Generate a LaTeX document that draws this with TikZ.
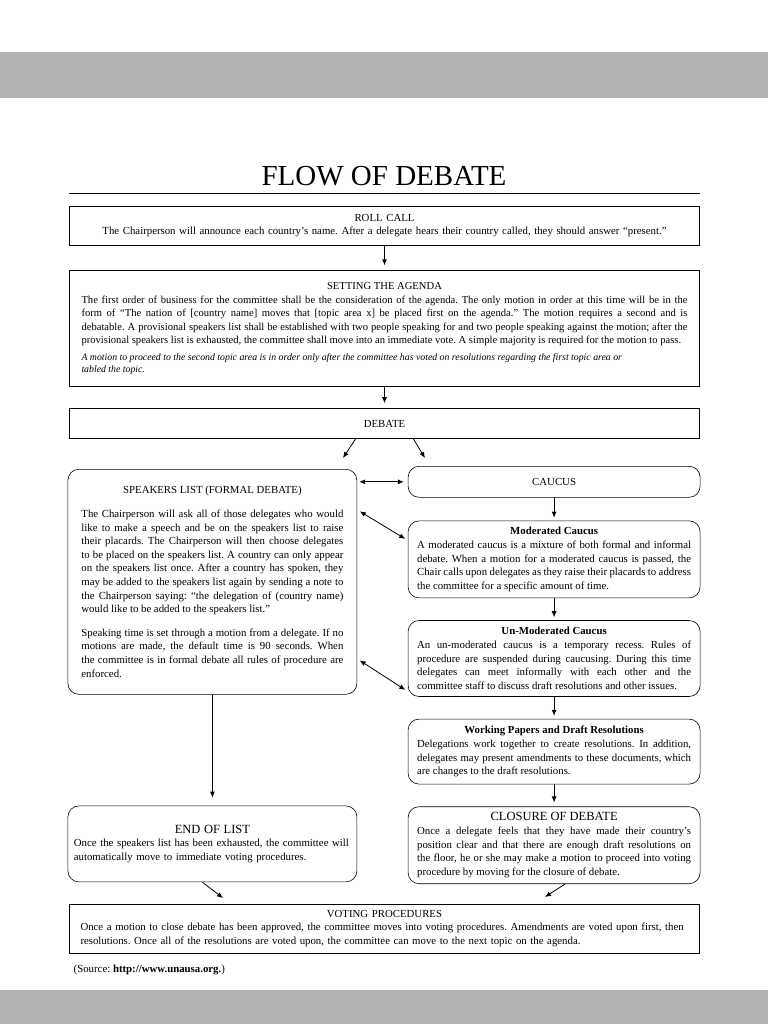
\documentclass[tikz,border=0pt]{standalone}
\usepackage{fontspec}
\setmainfont{Liberation Serif}
\usepackage{xcolor}
\usetikzlibrary{positioning,arrows.meta}
\definecolor{bandgray}{HTML}{B4B4B4}
\newcommand{\boxhead}[1]{{\centering #1\par}}
\frenchspacing
\hyphenpenalty=10000
\tolerance=4000
\emergencystretch=8pt

\begin{document}
\begin{tikzpicture}[x=1pt, y=1pt, thick, >={Latex[length=6pt,width=5pt]},
flatnode/.style = {rectangle, draw, fill=white, minimum width=630pt, inner sep=0pt},
roundnode/.style = {rectangle, draw, semithick, rounded corners=11pt, fill=white, inner sep=0pt}]
\tikzstyle{every node}=[font=\fontsize{10.8}{13.6}\selectfont]
\useasboundingbox (0,0) rectangle (768,-1024);
\fill[bandgray] (0,-52) rectangle (768,-98);
\fill[bandgray] (0,-990) rectangle (768,-1024);
\node[font=\fontsize{29}{29}\selectfont] (0) at (384,-176.5) {FLOW OF DEBATE};
\draw (69,-193) -- (700,-193);
\node[flatnode, minimum height=39pt, text width=610pt, align=center] (1) at (384.5,-225.5) {ROLL CALL\\The Chairperson will announce each country’s name. After a delegate hears their country called, they should answer “present.”};
\node[flatnode, minimum height=116pt, text width=606pt, align=justify, font=\fontsize{10.6}{13.6}\selectfont] (2) [below=25pt of 1] {\boxhead{SETTING THE AGENDA}The first order of business for the committee shall be the consideration of the agenda. The only motion in order at this time will be in the\linebreak form of “The nation of [country name] moves that [topic area x] be placed first on the agenda.” The motion requires a second and is\linebreak debatable. A provisional speakers list shall be established with two people speaking for and two people speaking against the motion; after the\linebreak provisional speakers list is exhausted, the committee shall move into an immediate vote. A simple majority is required for the motion to pass.\par\vspace{5pt}{\itshape\fontsize{9.8}{12}\selectfont A motion to proceed to the second topic area is in order only after the committee has voted on resolutions regarding the first topic area or\newline tabled the topic.\par}};
\node[flatnode, minimum height=30pt] (3) [below=21pt of 2] {DEBATE};
\node[roundnode, minimum width=289pt, minimum height=225pt, text width=262pt, align=justify] (4) [below=30pt of 3.south west, anchor=north west, xshift=-1.5pt] {\boxhead{SPEAKERS LIST (FORMAL DEBATE)}\vspace{10pt}The Chairperson will ask all of those delegates who would\linebreak like to make a speech and be on the speakers list to raise\linebreak their placards. The Chairperson will then choose delegates\linebreak to be placed on the speakers list. A country can only appear\linebreak on the speakers list once. After a country has spoken, they\linebreak may be added to the speakers list again by sending a note to\linebreak the Chairperson saying: “the delegation of (country name)\linebreak would like to be added to the speakers list.”\par\vspace{10pt}Speaking time is set through a motion from a delegate. If no\linebreak motions are made, the default time is 90 seconds. When\linebreak the committee is in formal debate all rules of procedure are\linebreak enforced.};
\node[roundnode, minimum width=292pt, minimum height=31pt] (5) [below=27pt of 3.south east, anchor=north east, xshift=0.5pt] {CAUCUS};
\node[roundnode, minimum width=292pt, minimum height=77pt, text width=274pt, align=justify] (6) [below=23pt of 5] {\boxhead{\textbf{Moderated Caucus}}A moderated caucus is a mixture of both formal and informal debate. When a motion for a moderated caucus is passed, the Chair calls upon delegates as they raise their placards to address the committee for a specific amount of time.};
\node[roundnode, minimum width=292pt, minimum height=76pt, text width=274pt, align=justify] (7) [below=22pt of 6] {\boxhead{\textbf{Un-Moderated Caucus}}An un-moderated caucus is a temporary recess. Rules of\linebreak procedure are suspended during caucusing. During this time\linebreak delegates can meet informally with each other and the\linebreak committee staff to discuss draft resolutions and other issues.};
\node[roundnode, minimum width=292pt, minimum height=65pt, text width=274pt, align=justify] (8) [below=22pt of 7] {\boxhead{\textbf{Working Papers and Draft Resolutions}}Delegations work together to create resolutions. In addition, delegates may present amendments to these documents, which are changes to the draft resolutions.};
\node[roundnode, minimum width=292pt, minimum height=77pt, text width=274pt, align=justify] (9) [below=22pt of 8] {\boxhead{{\fontsize{12.5}{14}\selectfont CLOSURE OF DEBATE}}Once a delegate feels that they have made their country’s position clear and that there are enough draft resolutions on the floor, he or she may make a motion to proceed into voting procedure by moving for the closure of debate.};
\node[roundnode, minimum width=289pt, minimum height=76pt, text width=277pt, align=left] (10) [below=111pt of 4] {\boxhead{{\fontsize{12.5}{14}\selectfont END OF LIST}}Once the speakers list has been exhausted, the committee will automatically move to immediate voting procedures.};
\node[flatnode, minimum height=49pt, text width=608pt, align=left] (11) at (384.5,-928.5) {\boxhead{VOTING PROCEDURES}Once a motion to close debate has been approved, the committee moves into voting procedures. Amendments are voted upon first, then resolutions. Once all of the resolutions are voted upon, the committee can move to the next topic on the agenda.};
\node[anchor=base west] (12) at (70,-972) {(Source: \textbf{http://www.unausa.org.})};
\coordinate (a) at (343,-458);
\coordinate (b) at (425,-458);
\coordinate (c) at (223,-898);
\coordinate (d) at (545,-897);
\draw[->, shorten >=5pt] (1) -- (2);
\draw[->, shorten >=5pt] (2) -- (3);
\draw[->] ([xshift=-29pt]3.south) -- (a);
\draw[->] ([xshift=29pt]3.south) -- (b);
\draw[<->, shorten <=2pt, shorten >=4pt] (4.north east |- 5.west) -- (5.west);
\draw[<->, shorten <=3pt, shorten >=3pt] ([yshift=72pt]4.east) -- ([yshift=19pt]6.west);
\draw[<->, shorten <=3pt, shorten >=3pt] ([yshift=-77pt]4.east) -- ([yshift=-33pt]7.west);
\draw[->, shorten >=3pt] (5) -- (6);
\draw[->, shorten >=3pt] (6) -- (7);
\draw[->, shorten >=3pt] (7) -- (8);
\draw[->, shorten >=4pt] (8) -- (9);
\draw[->, shorten >=8pt] (4) -- (10);
\draw[->] ([xshift=-10pt]10.south) -- (c);
\draw[->] ([xshift=11pt]9.south) -- (d);
\end{tikzpicture}
\end{document}
